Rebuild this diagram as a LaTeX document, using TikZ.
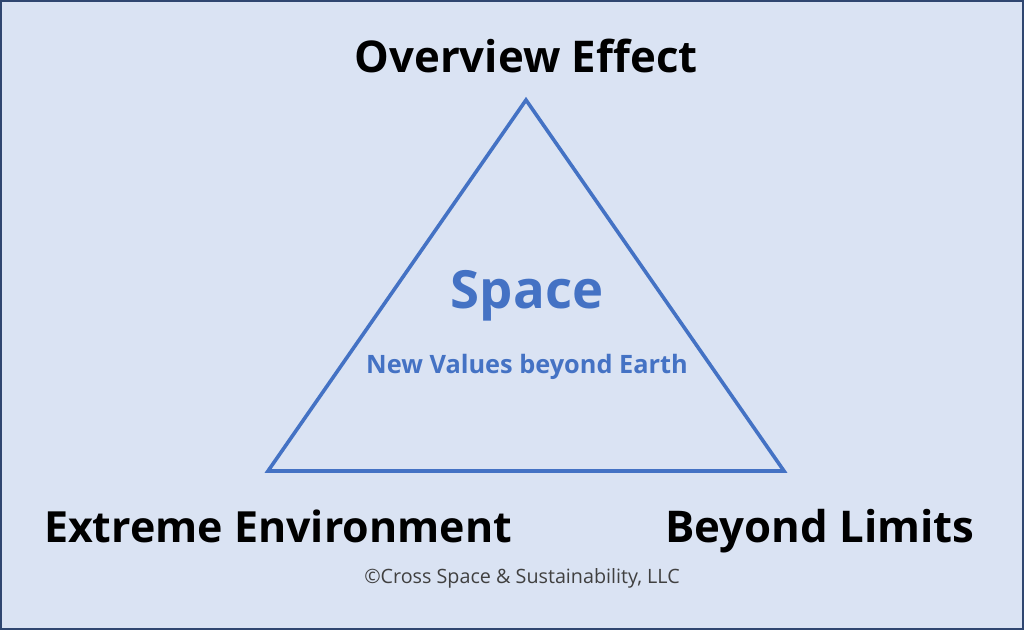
\documentclass[tikz,border=0pt]{standalone}
\usepackage{fontspec}
\setmainfont{Open Sans}
\definecolor{panelfill}{HTML}{DAE3F3}
\definecolor{panelline}{HTML}{2F4670}
\definecolor{triblue}{HTML}{4472C4}
\definecolor{notegray}{HTML}{404040}
\tikzset{every picture/.style={line width=0.75pt}}
\tikzset{
  cornerlabel/.style={anchor=base, inner sep=0pt, font=\fontsize{32.8}{38}\selectfont\bfseries, text=black},
  centerlabel/.style={anchor=base, inner sep=0pt, font=\fontsize{39.5}{46}\selectfont\bfseries, text=triblue},
  sublabel/.style={anchor=base, inner sep=0pt, font=\fontsize{19}{23}\selectfont\bfseries, text=triblue},
  notelabel/.style={anchor=base, inner sep=0pt, font=\fontsize{14.8}{18}\selectfont, text=notegray}
}
\begin{document}
\begin{tikzpicture}[x=0.75pt,y=0.75pt,yscale=-1,xscale=1]
	% background panel
	\draw [panelline, fill=panelfill, line width=1.5pt] (1,1) rectangle (1023,629) ;
	\useasboundingbox (0,0) rectangle (1024,630) ;

	% Triangle corners
	\coordinate (apex) at (526,100) ;
	\coordinate (lowleft) at (268,471) ;
	\coordinate (lowright) at (784,471) ;
	\draw [triblue, line width=2.7pt, line join=miter] (apex) -- (lowleft) -- (lowright) -- cycle ;

	% Text Node
	\draw (526,73) node [cornerlabel] (overview) {Overview Effect};
	% Text Node
	\draw (278,542) node [cornerlabel, font=\fontsize{32.2}{38}\selectfont\bfseries] (extreme) {Extreme Environment};
	% Text Node
	\draw (820,542) node [cornerlabel] (beyond) {Beyond Limits};
	% Text Node
	\draw (527,309) node [centerlabel] (space) {Space};
	% Text Node
	\draw (527,374) node [sublabel] (values) {New Values beyond Earth};
	% Text Node
	\draw (522,583) node [notelabel] (credit) {©Cross Space \& Sustainability, LLC};

\end{tikzpicture}
\end{document}
